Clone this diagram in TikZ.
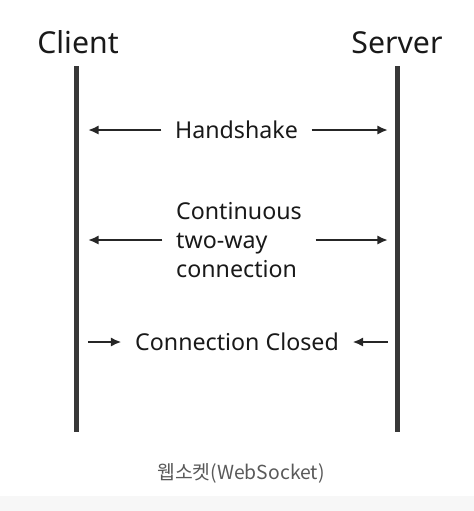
\documentclass[tikz,border=0pt]{standalone}
\usepackage{fontspec}
\setmainfont{Noto Sans}
\newfontfamily\krfont{Noto Sans CJK KR}
\usetikzlibrary{arrows.meta}

\begin{document}
\begin{tikzpicture}[
  x=0.01cm, y=-0.01cm,
  >={Latex[length=3pt, width=2.6pt]},
  actor/.style={font=\fontsize{8.6}{10}\selectfont, text=black!90, anchor=base},
  life/.style={line width=1.4pt, draw=black!78},
  msg/.style={->, line width=0.7pt, draw=black!85},
  lab/.style={font=\fontsize{6.6}{8.25}\selectfont, text=black!90, inner xsep=3.7pt, inner ysep=0pt, align=left},
  captext/.style={font=\krfont\fontsize{5.5}{6.5}\selectfont, text=black!65}
]
\useasboundingbox (0,0) rectangle (474,511);
\fill[black!3] (0,496) rectangle (474,511);

% actors and lifelines
\node[actor] (client) at (78,53)  {Client};
\node[actor] (server) at (397,53) {Server};
\coordinate (cTop) at (76.5,66);  \coordinate (cBot) at (76.5,432);
\coordinate (sTop) at (397.5,66); \coordinate (sBot) at (397.5,432);
\draw[life] (cTop) -- (cBot);
\draw[life] (sTop) -- (sBot);

% messages
\node[lab] (hand)   at (236.5,130) {Handshake};
\node[lab] (cont)   at (239,240)   {Continuous\\two-way\\connection};
\node[lab] (closed) at (237,342)   {Connection Closed};

\coordinate (handC) at (88,130);   \coordinate (handS) at (388,130);
\coordinate (contC) at (88,240);   \coordinate (contS) at (388,240);
\coordinate (closC) at (88,342);   \coordinate (closS) at (388,342);

\draw[msg] (hand.west) -- (handC);
\draw[msg] (hand.east) -- (handS);
\draw[msg] (cont.west |- contC) -- (contC);
\draw[msg] (cont.east |- contS) -- (contS);
\draw[msg] (closC) -- (closed.west);
\draw[msg] (closS) -- (closed.east);

\node[captext] (caption) at (241,473) {웹소켓(WebSocket)};
\end{tikzpicture}
\end{document}
